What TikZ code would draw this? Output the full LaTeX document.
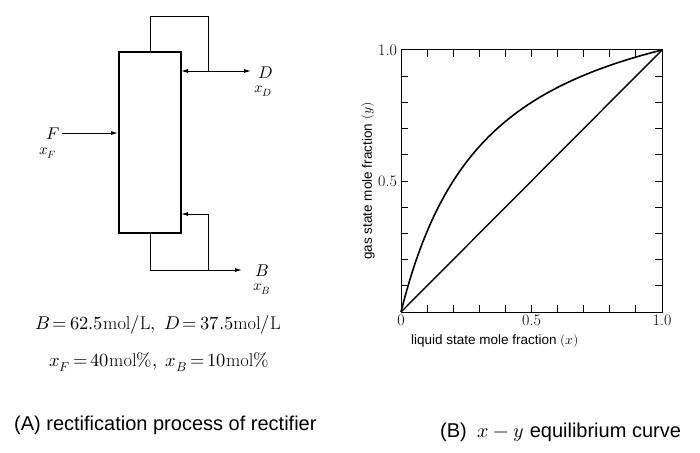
\documentclass[tikz,border=0pt]{standalone}
\usepackage{fontspec}
\newfontfamily\lsans{Liberation Sans}
\usepackage{unicode-math}
\usetikzlibrary{arrows.meta}
\newcommand{\eqq}{\mathrel{\mkern-2mu=\mkern-2mu}}
\begin{document}
\begin{tikzpicture}[x=1pt,y=-1pt,
  ln/.style={line width=0.9pt},
  arr/.style={ln,-{Latex[length=7pt,width=4pt]}},
  lbl/.style={inner sep=0pt,font=\fontsize{17}{17}\selectfont},
  sub/.style={inner sep=0pt,font=\fontsize{15}{15}\selectfont},
  txt/.style={inner sep=0pt,font=\fontsize{18.5}{18.5}\selectfont},
  tk/.style={inner sep=0pt,font=\fontsize{16}{16}\selectfont},
  axl/.style={inner sep=0pt,font=\lsans\fontsize{13.5}{13.5}\selectfont},
  captxt/.style={inner sep=0pt,font=\lsans\fontsize{20}{20}\selectfont}]
\useasboundingbox (0,0) rectangle (700,452);
% column
\node[draw,line width=1.2pt,minimum width=62pt,minimum height=181pt,inner sep=0pt] (col) at (150,142.5) {};
\coordinate (t1) at (150,16); \coordinate (t2) at (208,16); \coordinate (tj) at (208,71);
\coordinate (dR) at (181,71); \coordinate (dE) at (251,71);
\draw[ln] (col.north) -- (t1) -- (t2) -- (tj);
\draw[arr] (tj) -- (dR);
\draw[arr] (tj) -- (dE);
\node[lbl] (D) at (266,73) {$D$};
\node[sub] (xD) at (263,91) {$x_D$};
% feed
\node[lbl] (F) at (53,134) {$F$};
\node[sub] (xF) at (48,153) {$x_F$};
\coordinate (fin) at (118,133);
\draw[arr] (62,133) -- (fin);
% bottom
\coordinate (b1) at (150,270); \coordinate (bj) at (208,270); \coordinate (bE) at (242,270);
\coordinate (b2) at (208,214); \coordinate (bR) at (181,214);
\draw[ln] (col.south) -- (b1) -- (bj);
\draw[arr] (bj) -- (bE);
\draw[ln] (bj) -- (b2);
\draw[arr] (b2) -- (bR);
\node[lbl] (B) at (262,271) {$B$};
\node[sub] (xB) at (262,289) {$x_B$};
% texts
\node[txt] (t1l) at (158,325) {$B\eqq 62.5\mathrm{mol/L},\ D\eqq 37.5\mathrm{mol/L}$};
\node[txt] (t2l) at (159,362) {$x_F\eqq 40\mathrm{mol\%},\ x_B\eqq 10\mathrm{mol\%}$};
\node[captxt,anchor=west] (capA) at (14,425) {(A) rectification process of rectifier};
\node[captxt,anchor=west] (capB) at (440,432) {(B) \ $x-y$ equilibrium curve};
% plot
\begin{scope}[shift={(401,312)},x=261pt,y=262pt]
\draw[line width=1pt] (0,0) rectangle (1,1);
\foreach \i in {1,...,9}{
  \draw[ln] (\i/10,0) -- (\i/10,0.025);
  \draw[ln] (\i/10,1) -- (\i/10,0.975);
  \draw[ln] (0,\i/10) -- (0.025,\i/10);
  \draw[ln] (1,\i/10) -- (0.975,\i/10);
}
\draw[line width=1.4pt] (0,0) -- (1,1);
\draw[line width=1.6pt,domain=0:1,samples=120,smooth] plot (\x,{4*\x/(1+3*\x)});
\node[tk,anchor=north] (x0) at (0,-0.012) {0};
\node[tk,anchor=north] (x5) at (0.5,-0.012) {0.5};
\node[tk,anchor=north] (x1) at (1,-0.012) {1.0};
\node[tk,anchor=east] (y5) at (-0.015,0.5) {0.5};
\node[tk,anchor=east] (y1) at (-0.015,1) {1.0};
\node[axl] (xl) at (0.36,-0.11) {liquid state mole fraction $(x)$};
\node[axl,rotate=90] (yl) at (-0.125,0.5) {gas state mole fraction $(y)$};
\end{scope}
\end{tikzpicture}
\end{document}
